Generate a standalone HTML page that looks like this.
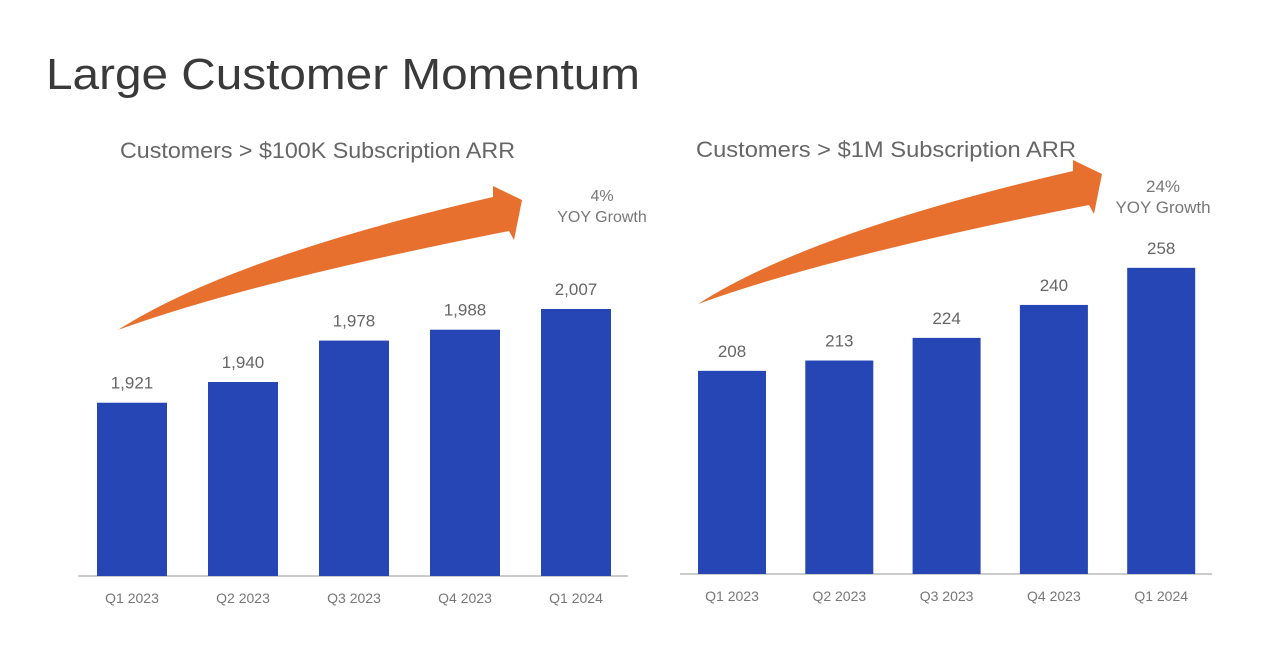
<!DOCTYPE html>
<html><head><meta charset="utf-8"><style>
body{margin:0;background:#fff;width:1267px;height:663px;overflow:hidden;font-family:"Liberation Sans",sans-serif}
</style></head><body>
<svg width="1267" height="663" id="s">
<text x="46" y="89" font-size="44" fill="#3a3a3a" textLength="594" lengthAdjust="spacingAndGlyphs">Large Customer Momentum</text>
<text x="120" y="158" font-size="22" fill="#666" textLength="395" lengthAdjust="spacingAndGlyphs">Customers &gt; $100K Subscription ARR</text>
<text x="696" y="157" font-size="22" fill="#666" textLength="380" lengthAdjust="spacingAndGlyphs">Customers &gt;  $1M Subscription ARR</text>
<path d="M118,330 Q230,258 493,197 L493,186 L522,200 L514,240 L509,231 Q250,282 118,330 Z" fill="#e8702f"/>
<path transform="translate(580,-26)" d="M118,330 Q230,258 493,197 L493,186 L522,200 L514,240 L509,231 Q250,282 118,330 Z" fill="#e8702f"/>
<text x="602" y="201" font-size="16" fill="#777" text-anchor="middle">4%</text>
<text x="602" y="222" font-size="16" fill="#777" text-anchor="middle">YOY Growth</text>
<text x="1163" y="192" font-size="17" fill="#777" text-anchor="middle">24%</text>
<text x="1163" y="213" font-size="17" fill="#777" text-anchor="middle">YOY Growth</text>
<g id="left"></g><g id="right"></g>
</svg>
<script>
const categories=["Q1 2023","Q2 2023","Q3 2023","Q4 2023","Q1 2024"];
const leftValues=[1921,1940,1978,1988,2007];
const rightValues=[208,213,224,240,258];
const NS="http://www.w3.org/2000/svg";
function mk(t,a,p){const e=document.createElementNS(NS,t);for(const k in a)e.setAttribute(k,a[k]);p.appendChild(e);return e;}
function draw(g,vals,cfg){
  const y=v=>cfg.ym-(v-cfg.vm)*cfg.k;
  const x=i=>cfg.x0+i*cfg.step;
  const ax=mk("line",{x1:cfg.ax0,x2:cfg.ax1,y1:cfg.base,y2:cfg.base,stroke:"#bbb","stroke-width":1.5},g);
  
  
  vals.forEach((v,i)=>{
    const top=y(v);
    const r=mk("rect",{x:x(i),y:top,width:cfg.w,height:cfg.base-top,fill:"#2546b4"},g);
    
    
    const t=mk("text",{x:x(i)+cfg.w/2,y:top-14,"font-size":17,fill:"#666","text-anchor":"middle"},g);
    t.textContent=v.toLocaleString("en-US");
    
    
    const c=mk("text",{x:x(i)+cfg.w/2,y:cfg.base+27,"font-size":14,fill:"#777","text-anchor":"middle"},g);
    c.textContent=categories[i];
    
    
  });
}
draw(document.getElementById("left"),leftValues,{x0:97,step:111,w:70,base:576,vm:1966.8,ym:352.8,k:1.09,ax0:78,ax1:628});
draw(document.getElementById("right"),rightValues,{x0:698,step:107.3,w:68,base:574,vm:228.6,ym:328.4,k:2.06,ax0:680,ax1:1212});
</script>
</body></html>
